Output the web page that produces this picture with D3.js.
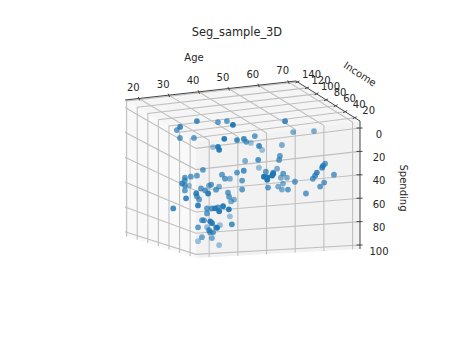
<!DOCTYPE html>
<html>
<head>
<meta charset="utf-8">
<script src="https://cdn.jsdelivr.net/npm/d3@7"></script>
<style>
	html, body { margin: 0; background: #fff; }
	svg { display: block; }
	text { font-family: "DejaVu Sans", sans-serif; fill: #262626; }
</style>
</head>
<body>
<div class="plot-container"></div>
<script>
const ageTicks = [20, 30, 40, 50, 60, 70];
const incomeTicks = [20, 40, 60, 80, 100, 120, 140];
const spendingTicks = [0, 20, 40, 60, 80, 100];

const age = [36.7,38.4,40.8,50.6,32.9,27.5,28.3,32,47.7,47.4,49.2,46,39.1,48.3,53.3,28.8,45.6,46,41.8,51.3,41.9,48.3,43.5,34.4,39.5,32.8,31.2,29.6,40.3,37.7,44.9,29.6,44.9,31.9,29.6,23,29.6,34.9,30.6,38.9,38.3,32.8,33.4,33.9,35,42.3,33,36.6,37.9,34.8,41.1,41.4,38,38.8,35.5,38.3,44.6,46,39.9,47.3,48.7,35.5,33.4,45.1,34.2,34.7,43,43.6,33.1,27.2,37.9,30.7,45.3,36.3,38,37.8,31.9,24.8,33.8,30.7,60.3,54.9,60.6,42.2,51.8,55.1,54.9,50.5,53.3,51.3,56,53.2,59.2,51.5,52.1,59.5,60.4,61.7,60.4,62,51.9,50.8,51.8,57.3,62.2,66.1,67.2,64.1,67.6,68.8,69.9,69.7,70,67.4];
const income = [127,95.5,91.7,137.7,137.7,112.8,111.4,105.5,137.7,110.4,107.3,83.8,34.7,80,101.1,50.5,137.7,137.7,61.5,91,34.8,102.2,87.5,101.8,93.8,104.3,106.9,109.3,92.6,67.9,85.5,109.3,85.5,128,109.3,64,109.3,137.7,137.7,137.7,137.7,104.3,103.5,102.7,101,137.7,81.9,98.4,96.4,72.5,91.4,90.9,67.4,66.2,100.2,106.9,137.7,137.7,104.3,137.7,134.5,100.2,43.5,107.1,102.3,101.4,137.7,137.7,103.9,53,96.4,47.7,137.7,98.9,102.8,109.5,89.4,56.8,80.7,49.2,90.1,41.5,32.7,30.1,46.1,69.6,70.1,48.2,72.5,75.5,68.3,44.1,63.4,46.5,45.7,128.6,127.4,125.2,127.4,124.8,74.7,47.8,46.1,66.3,58.7,52.9,51.2,55.9,72.4,76,47,70.6,70.6,50.5];
const spending = [12.5,6.4,5.3,21,18.6,14.2,20.6,20.1,31.2,26.5,25.4,21.9,9.4,16.9,30.6,14,37,39.4,31.9,39.3,31.9,49.7,47.4,46,49.5,51,52,52.8,52.7,47.4,53.9,55.2,61.2,61.5,59.3,49.4,63.4,75.4,82.7,81.6,72.1,68,70.4,61.4,62.9,72.8,55,57.9,62,54.4,64.1,67.4,66.6,65,77.6,79.1,84.7,87.2,78.2,83.5,85.6,81.7,74.3,93,87.4,87.4,94.6,96.2,93.3,84.4,92.9,82.3,100,97.1,97.9,97.1,99.2,96.8,99,100,10.1,6.3,4.9,15.3,17.5,32.6,36,37.7,46.6,46,47.2,45.1,53.6,45.3,50.2,61.1,61.7,60.1,63.4,58.6,59,52.9,55.3,60.2,63,57,53.6,50.7,52,50.4,46.9,45.6,44.2,38];

const width = 474, height = 357;

// box corners on screen, named by [age, income, spending] end
const box = {
	"000": [196, 142], "100": [360, 121], "010": [125, 100], "110": [296, 81],
	"001": [196, 258], "101": [360, 249], "011": [125, 236], "111": [296, 227]
};

const x = d3.scaleLinear().domain([15.4, 72.6]).range([0, 1]);
const y = d3.scaleLinear().domain([8.9, 143.1]).range([0, 1]);
const z = d3.scaleLinear().domain([-6, 103.4]).range([0, 1]);

// trilinear blend of the box corners, enough for this mild perspective
function boxPoint(u, v, w) {
	const out = [0, 0];
	for (const i of [0, 1])
		for (const j of [0, 1])
			for (const k of [0, 1]) {
				const f = (i ? u : 1 - u) * (j ? v : 1 - v) * (k ? w : 1 - w);
				out[0] += f * box[`${i}${j}${k}`][0];
				out[1] += f * box[`${i}${j}${k}`][1];
			}
	return out;
}

const svg = d3.select(".plot-container").append("svg")
	.attr("width", width)
	.attr("height", height);

const panes = [
	{ c: ["000", "010", "011", "001"], fill: "#f9f9f9" },
	{ c: ["000", "100", "101", "001"], fill: "#f2f2f2" },
	{ c: ["000", "100", "110", "010"], fill: "#f5f5f5" }
];

svg.selectAll("polygon.pane")
	.data(panes)
	.join("polygon")
	.attr("class", "pane")
	.attr("points", d => d.c.map(k => box[k].join(",")).join(" "))
	.attr("fill", d => d.fill);

const gridG = svg.append("g")
	.attr("fill", "none")
	.attr("stroke", "#c0c0c0")
	.attr("stroke-width", 1.1);

const line = d3.line();

function gridPath(points) {
	gridG.append("path").attr("d", line(points));
}

ageTicks.forEach(t => {
	const u = x(t);
	gridPath([boxPoint(u, 0, 1), boxPoint(u, 0, 0), boxPoint(u, 1, 0)]);
});
incomeTicks.forEach(t => {
	const v = y(t);
	gridPath([boxPoint(0, v, 1), boxPoint(0, v, 0), boxPoint(1, v, 0)]);
});
spendingTicks.forEach(t => {
	const w = z(t);
	gridPath([boxPoint(0, 1, w), boxPoint(0, 0, w), boxPoint(1, 0, w)]);
});

const axisG = svg.append("g")
	.attr("fill", "none")
	.attr("stroke", "#444")
	.attr("stroke-width", 1);

axisG.append("path").attr("d", line([box["010"], box["110"], box["100"], box["101"]]));

function addTicks(ticks, pos, tickOut, tickIn, labelOffset) {
	ticks.forEach(t => {
		const p = pos(t);
		axisG.append("line")
			.attr("x1", p[0] + tickIn[0]).attr("y1", p[1] + tickIn[1])
			.attr("x2", p[0] + tickOut[0]).attr("y2", p[1] + tickOut[1]);
		svg.append("text")
			.attr("x", p[0] + labelOffset[0])
			.attr("y", p[1] + labelOffset[1])
			.attr("text-anchor", "middle")
			.attr("dominant-baseline", "central")
			.attr("font-size", 10)
			.text(t);
	});
}

addTicks(ageTicks, t => boxPoint(x(t), 1, 0), [-0.5, -1.5], [1, 2], [-5.5, -11]);
addTicks(incomeTicks, t => boxPoint(1, y(t), 0), [2, -1], [-2, 1], [14, -7.5]);
addTicks(spendingTicks, t => boxPoint(1, 0, z(t)), [2.5, 0], [-3.5, 0], [19, 6]);

const depth = (u, v) => 0.4 * u + 0.6 * v;
const alpha = d3.scaleLinear().domain([0.15, 0.85]).range([0.3, 1]).clamp(true);

const points = age.map((a, i) => {
	const u = x(a), v = y(income[i]), w = z(spending[i]);
	const p = boxPoint(u, v, w);
	return { px: p[0], py: p[1], d: depth(u, v) };
}).sort((a, b) => a.d - b.d);

svg.append("g").selectAll("circle")
	.data(points)
	.join("circle")
	.attr("cx", d => d.px)
	.attr("cy", d => d.py)
	.attr("r", 2.9)
	.attr("fill", "#1f77b4")
	.attr("opacity", d => alpha(d.d));

svg.append("text")
	.attr("x", 237).attr("y", 32)
	.attr("text-anchor", "middle")
	.attr("dominant-baseline", "central")
	.attr("font-size", 11.4)
	.text("Seg_sample_3D");

svg.append("text")
	.attr("x", 194).attr("y", 57)
	.attr("text-anchor", "middle")
	.attr("dominant-baseline", "central")
	.attr("font-size", 10)
	.text("Age");

svg.append("text")
	.attr("transform", "translate(360,74) rotate(33)")
	.attr("text-anchor", "middle")
	.attr("dominant-baseline", "central")
	.attr("font-size", 10)
	.text("Income");

svg.append("text")
	.attr("transform", "translate(403,188) rotate(90)")
	.attr("text-anchor", "middle")
	.attr("dominant-baseline", "central")
	.attr("font-size", 10)
	.text("Spending");
</script>
</body>
</html>
